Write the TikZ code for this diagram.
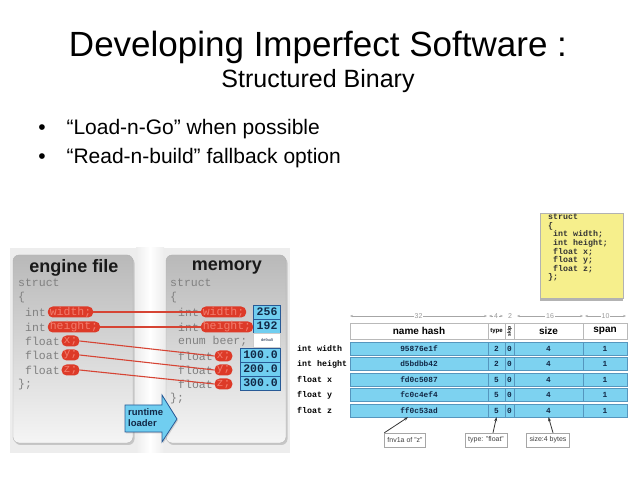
\documentclass[tikz,border=0pt]{standalone}
\usepackage{fontspec}
\setmainfont{Liberation Sans}
\setmonofont{Liberation Mono}
\usetikzlibrary{positioning,shadows,arrows.meta}

\definecolor{pillred}{RGB}{221,58,40}
\definecolor{pilltext}{RGB}{242,125,110}
\definecolor{linkred}{RGB}{214,68,52}
\definecolor{valblue}{RGB}{112,206,240}
\definecolor{valedge}{RGB}{40,90,150}
\definecolor{valtext}{RGB}{18,40,70}
\definecolor{rowblue}{RGB}{125,210,240}
\definecolor{rowedge}{RGB}{85,150,190}
\definecolor{notey}{RGB}{246,239,140}
\definecolor{codegray}{RGB}{128,128,128}

\begin{document}
\begin{tikzpicture}[
    x=1pt, y=-1pt,
    panel/.style={rectangle, draw=gray!60, rounded corners=6pt, top color=gray!55, bottom color=gray!8, minimum width=120pt, minimum height=188pt, drop shadow={opacity=0.35, shadow xshift=1.5pt, shadow yshift=-2pt}},
    paneltitle/.style={font=\fontsize{18}{20}\selectfont\bfseries, text=black!90},
    code/.style={font=\ttfamily\fontsize{11.5}{13}\selectfont, text=codegray, inner sep=0pt, anchor=west},
    pill/.style={rectangle, fill=pillred, rounded corners=5pt, inner xsep=2pt, inner ysep=0pt, minimum height=11pt, font=\ttfamily\fontsize{11.5}{13}\selectfont, text=pilltext},
    link/.style={linkred, line width=1.1pt},
    valbox/.style={rectangle, draw=valedge, line width=0.8pt, fill=valblue, inner sep=0pt, minimum height=14pt, font=\ttfamily\bfseries\fontsize{11.5}{13}\selectfont, text=valtext, anchor=east},
    cell/.style={rectangle, draw=rowedge, fill=rowblue, inner sep=0pt, minimum height=13pt, font=\ttfamily\bfseries\fontsize{7.8}{9}\selectfont, text=valtext},
    head/.style={rectangle, draw=gray!55, fill=white, inner sep=0pt, minimum height=16pt, font=\bfseries\fontsize{10}{12}\selectfont},
    rowlab/.style={font=\ttfamily\bfseries\fontsize{8.3}{10}\selectfont, inner sep=0pt, anchor=west},
    dim/.style={<->, >={Stealth[length=3pt]}, gray!70, line width=0.5pt},
    dimlab/.style={fill=white, inner sep=1pt, font=\fontsize{7}{8}\selectfont, text=gray!80},
    callout/.style={rectangle, draw=gray!70, fill=white, inner xsep=3pt, minimum height=14pt, font=\fontsize{7}{8}\selectfont, text=black!75},
    pointer/.style={-{Stealth[length=4pt]}, black!80, line width=0.8pt}
]
\useasboundingbox (0,0) rectangle (638,478);

% Titre et puces
\node[anchor=base, font=\fontsize{35}{40}\selectfont] (title) at (318,57) {Developing Imperfect Software :};
\node[anchor=base, font=\fontsize{25}{28}\selectfont] (subtitle) at (318,88) {Structured Binary};
\node[anchor=base, font=\fontsize{21}{24}\selectfont] (dot1) at (42,135) {•};
\node[anchor=base west, font=\fontsize{21}{24}\selectfont] (bul1) at (63,135) {“Load-n-Go” when possible};
\node[anchor=base, font=\fontsize{21}{24}\selectfont] (dot2) at (42,164) {•};
\node[anchor=base west, font=\fontsize{21}{24}\selectfont] (bul2) at (63,164) {“Read-n-build” fallback option};

% Fond gris derriere les deux panneaux
\fill[gray!14] (10,248) rectangle (290,453);
\shade[left color=gray!14, right color=gray!14, middle color=white] (136,248) rectangle (164,453);

\node[panel] (engine) at (73,349) {};
\node[panel] (memory) at (226,349) {};
\node[paneltitle] (enginetitle) at (74,268) {engine file};
\node[paneltitle] (memorytitle) at (227,268) {memory};

% Code du fichier moteur
\node[code] (es) at (18,283) {struct};
\node[code] (eo) at (18,298) {\{};
\node[code] (e1) at (25,312) {int};
\node[code] (e2) at (25,327) {int};
\node[code] (e3) at (25,341) {float};
\node[code] (e4) at (25,355) {float};
\node[code] (e5) at (25,370) {float};
\node[code] (ec) at (18,385) {\};};
\node[pill, right=1.5pt of e1] (ewidth) {width;};
\node[pill, right=1.5pt of e2] (eheight) {height;};
\node[pill, right=1.5pt of e3] (ex) {x;};
\node[pill, right=1.5pt of e4] (ey) {y;};
\node[pill, right=1.5pt of e5] (ez) {z;};

% Code en memoire
\node[code] (ms) at (170,283) {struct};
\node[code] (mo) at (170,298) {\{};
\node[code] (m1) at (178,312) {int};
\node[code] (m2) at (178,327) {int};
\node[code] (mb) at (178,341) {enum beer;};
\node[code] (m3) at (178,356) {float};
\node[code] (m4) at (178,370) {float};
\node[code] (m5) at (178,384) {float};
\node[code] (mc) at (170,399) {\};};
\node[pill, right=1.5pt of m1] (mwidth) {width;};
\node[pill, right=1.5pt of m2] (mheight) {height;};
\node[pill, right=1.5pt of m3] (mx) {x;};
\node[pill, right=1.5pt of m4] (my) {y;};
\node[pill, right=1.5pt of m5] (mz) {z;};

% Liens rouges entre les champs
\draw[link] (ewidth.east) -- (mwidth.west);
\draw[link] (eheight.east) -- (mheight.west);
\draw[link] (ex.east) -- (mx.west);
\draw[link] (ey.east) -- (my.west);
\draw[link] (ez.east) -- (mz.west);

% Valeurs chargees
\node[valbox, minimum width=27pt] (v1) at (281,312) {256};
\node[valbox, minimum width=27pt] (v2) at (281,326) {192};
\node[valbox, minimum width=27pt, fill=white, draw=gray!40, font=\fontsize{4}{5}\selectfont] (vb) at (281,340) {default};
\node[valbox, minimum width=40pt] (v3) at (281,355) {100.0};
\node[valbox, minimum width=40pt] (v4) at (281,369) {200.0};
\node[valbox, minimum width=40pt] (v5) at (281,383) {300.0};

% Fleche du chargeur
\draw[fill=valblue, draw=valedge, line width=0.8pt, drop shadow={opacity=0.3, shadow xshift=1pt, shadow yshift=-1.5pt}]
    (125,405) -- (162,405) -- (162,395) -- (177,419) -- (162,442) -- (162,432) -- (125,432) -- cycle;
\node[anchor=west, align=left, inner sep=0pt, font=\bfseries\fontsize{9.5}{11}\selectfont, text=valtext] (loader) at (128,418) {runtime\\loader};

% Post-it avec la structure
\node[rectangle, fill=notey, draw=gray!60, minimum width=83pt, minimum height=85pt, drop shadow={opacity=0.6, shadow xshift=0pt, shadow yshift=-3pt}] (note) at (581.5,255.5) {};
\node[anchor=north west, align=left, inner sep=0pt, font=\ttfamily\bfseries\fontsize{8.3}{8.6}\selectfont, text=black!80] (notetext) at (548,214) {
    struct\\
    \{\\
    \hspace*{0.6em}int width;\\
    \hspace*{0.6em}int height;\\
    \hspace*{0.6em}float x;\\
    \hspace*{0.6em}float y;\\
    \hspace*{0.6em}float z;\\
    \};
};

% Cotes au-dessus du tableau
\coordinate (d0) at (350,316);
\coordinate (d1) at (487,316);
\coordinate (d2) at (489,316);
\coordinate (d3) at (503,316);
\coordinate (d4) at (517,316);
\coordinate (d5) at (583,316);
\coordinate (d6) at (585,316);
\coordinate (d7) at (626,316);
\draw[dim] (d0) -- node[dimlab] {32} (d1);
\draw[dim] (d2) -- node[dimlab] {4} (d3);
\node[dimlab] (two) at (510,316) {2};
\draw[dim] (d4) -- node[dimlab] {16} (d5);
\draw[dim] (d6) -- node[dimlab] {10} (d7);

% En-tete du tableau
\node[head, minimum width=138pt] (hname) at (419,331) {name hash};
\node[head, minimum width=17pt, font=\bfseries\fontsize{6}{7}\selectfont] (htype) at (496.5,331) {type};
\node[head, minimum width=9pt] (hskip) at (509.5,331) {};
\node[rotate=90, inner sep=0pt, font=\bfseries\fontsize{5}{6}\selectfont] (skiplab) at (hskip) {skip};
\node[head, minimum width=69pt] (hsize) at (548.5,331) {size};
\node[head, minimum width=44pt] (hspan) at (605,331) {span};

% Lignes du tableau
\foreach \lab/\hash/\ty [count=\i] in {int width/95876e1f/2, int height/d5bdbb42/2, float x/fd0c5087/5, float y/fc0c4ef4/5, float z/ff0c53ad/5} {
    \pgfmathsetmacro\ry{348.5+15.5*(\i-1)}
    \node[rowlab] (lab\i) at (297,\ry) {\lab};
    \node[cell, minimum width=138pt] (hash\i) at (419,\ry) {\hash};
    \node[cell, minimum width=17pt] (type\i) at (496.5,\ry) {\ty};
    \node[cell, minimum width=9pt] (skip\i) at (509.5,\ry) {0};
    \node[cell, minimum width=69pt] (size\i) at (548.5,\ry) {4};
    \node[cell, minimum width=44pt] (span\i) at (605,\ry) {1};
}

% Bulles explicatives
\node[callout] (cfnv) at (405,440) {fnv1a of "z"};
\node[callout] (ctype) at (486,440) {type: "float"};
\node[callout] (csize) at (548,440) {size:4 bytes};
\draw[pointer] (cfnv.north west) -- ([xshift=-11pt]hash5.south);
\draw[pointer] ([xshift=7pt]ctype.north) -- (type5.south);
\draw[pointer] ([xshift=5pt]csize.north) -- (size5.south);

\end{tikzpicture}
\end{document}
